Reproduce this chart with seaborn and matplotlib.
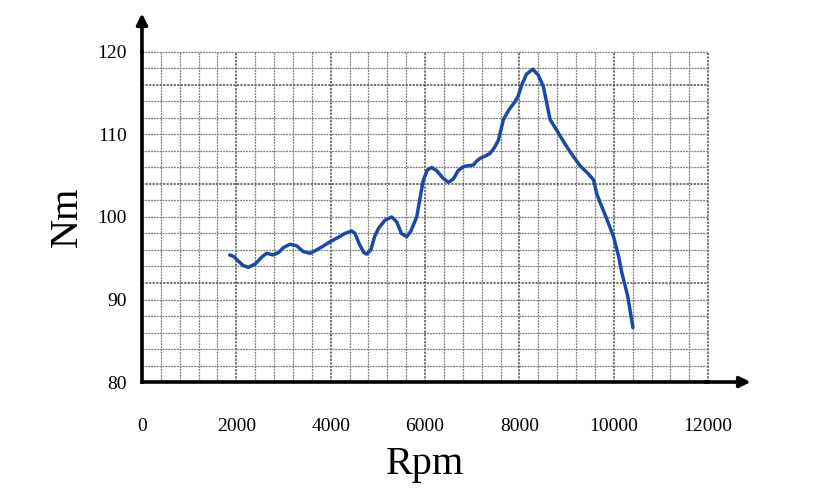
import matplotlib
matplotlib.use('Agg')
import matplotlib.pyplot as plt
import pandas as pd
import seaborn as sns

# torque curve
rpm = [1860, 1950, 2050, 2150, 2254, 2400, 2550, 2643, 2784, 2900, 3000, 3138,
       3280, 3420, 3562, 3700, 3850, 3986, 4150, 4300, 4446, 4516, 4600, 4700,
       4764, 4850, 4930, 5011, 5150, 5294, 5400, 5500, 5612, 5700, 5824, 5900,
       5965, 6050, 6142, 6250, 6380, 6495, 6600, 6700, 6812, 6900, 7024, 7100,
       7166, 7280, 7378, 7470, 7555, 7661, 7780, 7909, 7970, 8050, 8150, 8282,
       8400, 8508, 8580, 8650, 8792, 8950, 9074, 9286, 9450, 9571, 9640, 9713,
       9850, 9996, 10100, 10173, 10300, 10406]
torque = [95.4, 95.2, 94.6, 94.1, 93.9, 94.3, 95.2, 95.6, 95.4, 95.7, 96.3, 96.7,
          96.5, 95.8, 95.6, 96.0, 96.5, 97.0, 97.5, 98.0, 98.3, 98.0, 96.8, 95.7,
          95.5, 96.0, 97.6, 98.6, 99.6, 100.0, 99.4, 98.0, 97.6, 98.3, 100.0, 102.5,
          104.5, 105.7, 106.0, 105.6, 104.7, 104.2, 104.6, 105.6, 106.1, 106.2, 106.3, 106.8,
          107.1, 107.4, 107.7, 108.4, 109.3, 111.8, 113.0, 114.0, 114.6, 116.0, 117.3, 117.9,
          117.2, 115.8, 113.8, 111.8, 110.5, 109.0, 107.9, 106.2, 105.3, 104.5, 102.8, 101.7,
          99.8, 97.6, 95.3, 93.2, 90.3, 86.6]

x_ticks = [0, 2000, 4000, 6000, 8000, 10000, 12000]
y_ticks = [80, 90, 100, 110, 120]

df = pd.DataFrame({'Rpm': rpm, 'Nm': torque})

sns.set_style('white')
plt.rcParams['font.family'] = ['Liberation Serif', 'DejaVu Serif']
plt.rcParams['text.color'] = 'black'
plt.rcParams['xtick.color'] = 'black'
plt.rcParams['ytick.color'] = 'black'
plt.rcParams['axes.labelcolor'] = 'black'

fig = plt.figure(figsize=(8.4, 5.04), dpi=100)
ax = fig.add_axes([0.169, 0.242, 0.674, 0.655])

# graph paper grid
for xv in range(400, 12001, 400):
    major = xv % 2000 == 0
    ax.axvline(xv, color='#505050' if major else '#7c7c7c', lw=1.1 if major else 0.9,
               ls=(0, (1.5, 0.8)), zorder=0, clip_on=False)
for yv in range(82, 121, 2):
    major = (yv - 80) % 12 == 0
    ax.axhline(yv, color='#505050' if major else '#7c7c7c', lw=1.1 if major else 0.9,
               ls=(0, (1.5, 0.8)), zorder=0, clip_on=False)

sns.lineplot(data=df, x='Rpm', y='Nm', ax=ax, sort=False, color='#1c4aa2', lw=2.5, zorder=3)

ax.set_xlim(0, 12000)
ax.set_ylim(80, 120)
ax.set_xticks(x_ticks)
ax.set_yticks(y_ticks)
ax.set_xticklabels([str(v) for v in x_ticks], fontsize=14)
ax.set_yticklabels([str(v) for v in y_ticks], fontsize=14)
ax.tick_params(axis='x', direction='inout', length=8, width=1.2, pad=22)
ax.tick_params(axis='y', direction='out', length=5, width=1.2, pad=6)

for s in ['top', 'right']:
    ax.spines[s].set_visible(False)
for s in ['left', 'bottom']:
    ax.spines[s].set_linewidth(2.6)
    ax.spines[s].set_color('black')
    ax.spines[s].set_zorder(4)

# arrowheads on axes
ax.annotate('', xy=(1.08, 0), xytext=(0.99, 0), xycoords='axes fraction',
            arrowprops=dict(arrowstyle='-|>', color='black', lw=2.6, mutation_scale=16),
            annotation_clip=False)
ax.annotate('', xy=(0, 1.125), xytext=(0, 0.99), xycoords='axes fraction',
            arrowprops=dict(arrowstyle='-|>', color='black', lw=2.6, mutation_scale=16),
            annotation_clip=False)

ax.set_xlabel('Rpm', fontsize=29, labelpad=8)
ax.set_ylabel('Nm', fontsize=29, labelpad=8)

fig.savefig('out.png', dpi=100)
